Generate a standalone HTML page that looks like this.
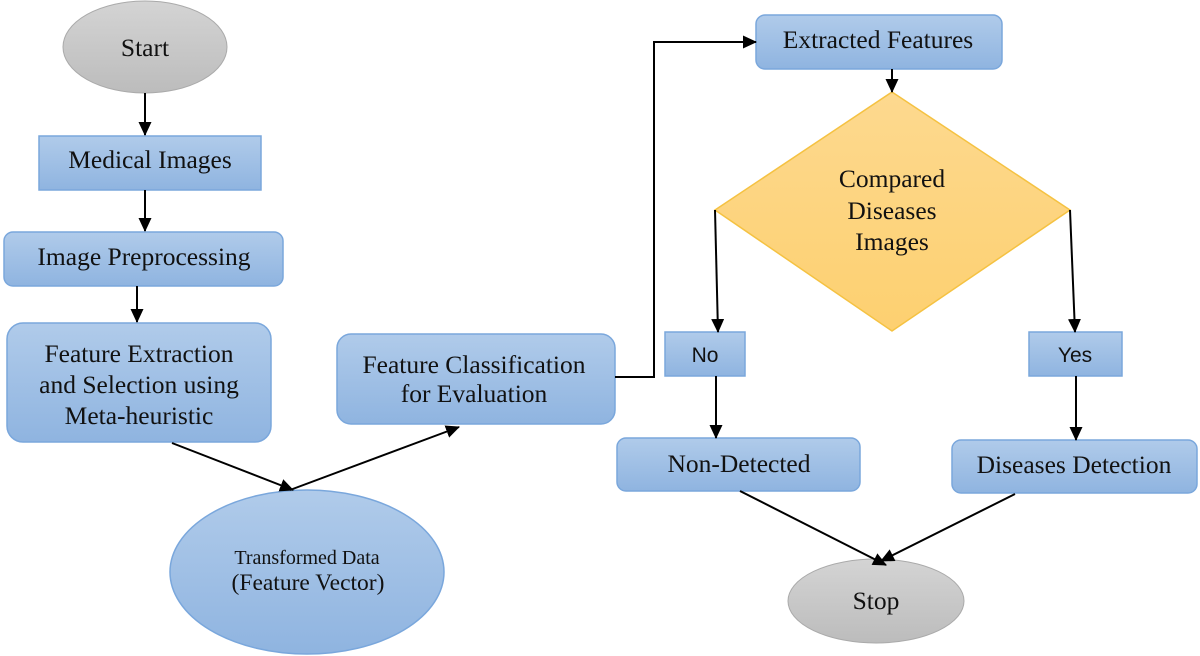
<!DOCTYPE html>
<html><head><meta charset="utf-8"><style>
html,body{margin:0;padding:0;background:#fff;}
svg{display:block;}
text{font-family:"Liberation Serif",serif;font-size:25.5px;fill:#111;text-anchor:middle;}
.s{font-family:"Liberation Sans",sans-serif;font-size:21px;}
</style></head><body>
<svg width="1200" height="656" viewBox="0 0 1200 656" xmlns="http://www.w3.org/2000/svg">
<defs>
<linearGradient id="b" x1="0" y1="0" x2="0" y2="1"><stop offset="0" stop-color="#b0cbea"/><stop offset="1" stop-color="#8fb4e0"/></linearGradient>
<linearGradient id="g" x1="0" y1="0" x2="0" y2="1"><stop offset="0" stop-color="#d4d4d4"/><stop offset="1" stop-color="#bcbcbc"/></linearGradient>
<linearGradient id="y" x1="0" y1="0" x2="0" y2="1"><stop offset="0" stop-color="#fdd98f"/><stop offset="1" stop-color="#fdd070"/></linearGradient>
<marker id="a" markerWidth="14" markerHeight="14" refX="13" refY="6.5" orient="auto" markerUnits="userSpaceOnUse"><path d="M0,0 L14,6.5 L0,13 z" fill="#000"/></marker>
</defs>
<g stroke="#7aa7dc" stroke-width="1.5" fill="url(#b)">
<rect x="39" y="136" width="222" height="54"/>
<rect x="4" y="232" width="279" height="54" rx="9"/>
<rect x="7" y="323" width="264" height="119" rx="16"/>
<ellipse cx="307" cy="572" rx="137" ry="82"/>
<rect x="337" y="334" width="278" height="90" rx="14"/>
<rect x="756" y="15" width="246" height="54" rx="9"/>
<rect x="665" y="332" width="80" height="44"/>
<rect x="1029" y="332" width="93" height="44"/>
<rect x="617" y="438" width="243" height="53" rx="9"/>
<rect x="952" y="440" width="245" height="53" rx="9"/>
</g>
<ellipse cx="145" cy="47" rx="82" ry="46" fill="url(#g)" stroke="#aaa" stroke-width="1"/>
<ellipse cx="876" cy="601" rx="88" ry="42" fill="url(#g)" stroke="#aaa" stroke-width="1"/>
<polygon points="892,92 1070,210 892,331 715,210" fill="url(#y)" stroke="#f5c242" stroke-width="1.5"/>
<g stroke="#000" stroke-width="2" fill="none" marker-end="url(#a)">
<line x1="145" y1="93" x2="145" y2="135"/>
<line x1="145" y1="190" x2="145" y2="231"/>
<line x1="137" y1="286" x2="137" y2="322"/>
<line x1="172" y1="443" x2="293" y2="490"/>
<line x1="290" y1="490" x2="459" y2="427"/>
<polyline points="615,377 654,377 654,42 756,42"/>
<line x1="892" y1="69" x2="892" y2="92"/>
<line x1="715" y1="210" x2="718" y2="332"/>
<line x1="1070" y1="210" x2="1075" y2="332"/>
<line x1="716" y1="376" x2="716" y2="438"/>
<line x1="1076" y1="376" x2="1076" y2="440"/>
<line x1="740" y1="491" x2="886" y2="565"/>
<line x1="1015" y1="494" x2="881" y2="561"/>
</g>
<text x="145" y="56">Start</text>
<text x="150" y="168">Medical Images</text>
<text x="144" y="265">Image Preprocessing</text>
<text x="139" y="362">Feature Extraction</text>
<text x="139" y="393">and Selection using</text>
<text x="139" y="424">Meta-heuristic</text>
<text x="307" y="564" style="font-size:20px">Transformed Data</text>
<text x="308" y="590" style="font-size:23.5px">(Feature Vector)</text>
<text x="474" y="373">Feature Classification</text>
<text x="474" y="402">for Evaluation</text>
<text x="878" y="48">Extracted Features</text>
<text x="892" y="187">Compared</text>
<text x="892" y="219">Diseases</text>
<text x="892" y="250">Images</text>
<text x="705" y="362" class="s">No</text>
<text x="1075" y="362" class="s">Yes</text>
<text x="739" y="472">Non-Detected</text>
<text x="1074" y="473">Diseases Detection</text>
<text x="876" y="609">Stop</text>
</svg>
</body></html>
